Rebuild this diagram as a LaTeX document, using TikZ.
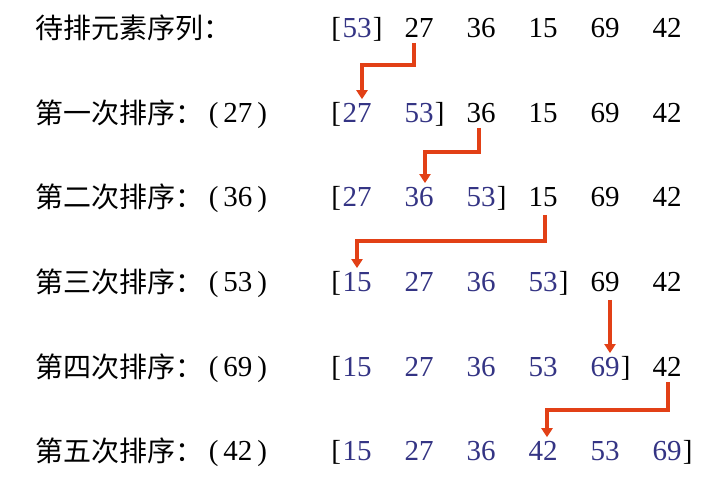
\documentclass[tikz,border=0pt]{standalone}
\usepackage{fontspec}
\newfontfamily\cjk{Noto Sans CJK SC}
\newfontfamily\numfont{Liberation Serif}
\usetikzlibrary{arrows.meta}
\definecolor{sortblue}{RGB}{52,52,132}
\definecolor{arrred}{RGB}{226,64,22}
\newcommand\numrow[4]{%
  \foreach \v [count=\c] in {#4} {
    \ifnum\c>#3 \def\numcol{black}\else\def\numcol{sortblue}\fi
    \node[num, text=\numcol] (n#1\c) at ({295+62*\c},#2) {\v};
  }
  \node[brk, anchor=base east] (lb#1) at ([xshift=-1pt]n#11.base west) {[};
  \node[brk, anchor=base west] (rb#1) at ([xshift=1pt]n#1#3.base east) {]};
}
\begin{document}
\begin{tikzpicture}[x=1pt,y=-1pt,
  num/.style={inner sep=0pt, font=\numfont\fontsize{29}{33}\selectfont},
  brk/.style={inner sep=0pt, font=\numfont\fontsize{29}{33}\selectfont},
  lbl/.style={inner sep=0pt, anchor=west, font=\cjk\fontsize{28}{32}\selectfont},
  parlbl/.style={inner sep=0pt, anchor=base, font=\numfont\fontsize{29}{33}\selectfont},
  arr/.style={draw=arrred, line width=3.5pt, line join=miter, -{Triangle[width=11pt,length=9pt]}}]
\fill[white] (0,0) rectangle (711,488);

% labels
\node[lbl] (l0) at (35,28) {待排元素序列：};
\node[lbl] (l1) at (35,113) {第一次排序：};
\node[lbl] (l2) at (35,197) {第二次排序：};
\node[lbl] (l3) at (35,282) {第三次排序：};
\node[lbl] (l4) at (35,367) {第四次排序：};
\node[lbl] (l5) at (35,451) {第五次排序：};
\node[parlbl] (p1) at (238,122.6) {(\kern5pt 27\kern5pt)};
\node[parlbl] (p2) at (238,206.6) {(\kern5pt 36\kern5pt)};
\node[parlbl] (p3) at (238,291.6) {(\kern5pt 53\kern5pt)};
\node[parlbl] (p4) at (238,376.6) {(\kern5pt 69\kern5pt)};
\node[parlbl] (p5) at (238,460.6) {(\kern5pt 42\kern5pt)};

% number rows
\numrow{0}{28}{1}{53,27,36,15,69,42}
\numrow{1}{113}{2}{27,53,36,15,69,42}
\numrow{2}{197}{3}{27,36,53,15,69,42}
\numrow{3}{282}{4}{15,27,36,53,69,42}
\numrow{4}{367}{5}{15,27,36,53,69,42}
\numrow{5}{451}{6}{15,27,36,42,53,69}

% arrows
\draw[arr] ([xshift=-5pt,yshift=-5pt]n02.south) -- ++(0,22) -| ([xshift=5pt,yshift=4pt]n11.north);
\draw[arr] ([xshift=-2pt,yshift=-5pt]n13.south) -- ++(0,24) -| ([xshift=6pt,yshift=4pt]n22.north);
\draw[arr] ([xshift=2pt,yshift=-8pt]n24.south) -- ++(0,26) -| ([xshift=0pt,yshift=4pt]n31.north);
\draw[arr] ([xshift=5pt,yshift=-8pt]n35.south) -- ([xshift=5pt,yshift=4pt]n45.north);
\draw[arr] ([xshift=1pt,yshift=-5pt]n46.south) -- ++(0,28) -| ([xshift=4pt,yshift=4pt]n54.north);
\end{tikzpicture}
\end{document}
